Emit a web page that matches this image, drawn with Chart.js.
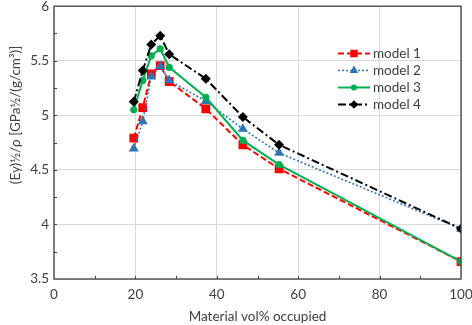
<!DOCTYPE html>
<html>
<head>
<meta charset="utf-8">
<script src="https://cdn.jsdelivr.net/npm/chart.js@4/dist/chart.umd.min.js"></script>
<style>
  html, body { margin: 0; padding: 0; background: #fff; }
  #wrap { width: 472px; height: 325px; }
</style>
</head>
<body>
<div id="wrap"><canvas id="c" width="472" height="325"></canvas></div>
<script>
// vol% occupied
const volPct = [19.6, 21.8, 23.9, 26.1, 28.3, 37.3, 46.4, 55.3, 100];
// specific stiffness per model
const model1 = [4.79, 5.07, 5.38, 5.455, 5.31, 5.06, 4.73, 4.51, 3.66];
const model2 = [4.695, 4.945, 5.355, 5.45, 5.32, 5.13, 4.875, 4.655, 3.96];
const model3 = [5.05, 5.32, 5.545, 5.61, 5.44, 5.165, 4.77, 4.548, 3.66];
const model4 = [5.125, 5.41, 5.65, 5.73, 5.56, 5.335, 4.985, 4.73, 3.96];
const seriesNames = ['model 1', 'model 2', 'model 3', 'model 4'];

const fontFam = 'Lato, "Open Sans", sans-serif';
const txt = '#404040';

const pts = (ys) => volPct.map((x, i) => ({ x: x, y: ys[i] }));

const styles = [
  { color: '#ff0000', dash: [6, 3], width: 2, point: 'rect', r: 6.2 },
  { color: '#2e75b6', dash: [2, 2], width: 1.6, point: 'triangle', r: 5.8 },
  { color: '#00b050', dash: [], width: 2, point: 'circle', r: 3.6 },
  { color: '#000000', dash: [8, 3, 2, 3], width: 2, point: 'rectRot', r: 5 }
];

const datasets = [model1, model2, model3, model4].map((ys, i) => ({
  label: seriesNames[i],
  data: pts(ys),
  borderColor: styles[i].color,
  backgroundColor: styles[i].color,
  borderWidth: styles[i].width,
  borderDash: styles[i].dash,
  pointStyle: styles[i].point,
  pointRadius: styles[i].r,
  pointBorderWidth: 0,
  pointBackgroundColor: styles[i].color,
  tension: 0
})).reverse(); // chart.js paints dataset 0 last, so model 4 ends up on top like excel

const extras = {
  id: 'extras',
  afterDraw(chart) {
    const ctx = chart.ctx;
    const a = chart.chartArea;
    const xs = chart.scales.x, ys = chart.scales.y;
    ctx.save();
    // frame
    ctx.strokeStyle = '#404040';
    ctx.lineWidth = 1.3;
    ctx.strokeRect(a.left, a.top, a.right - a.left, a.bottom - a.top);
    // minor ticks inside
    ctx.lineWidth = 1;
    ctx.beginPath();
    for (let v = 10; v < 100; v += 10) {
      const px = Math.round(xs.getPixelForValue(v)) + 0.5;
      ctx.moveTo(px, a.bottom);
      ctx.lineTo(px, a.bottom - 3);
    }
    for (let v = 3.75; v < 6; v += 0.25) {
      const py = Math.round(ys.getPixelForValue(v)) + 0.5;
      ctx.moveTo(a.left, py);
      ctx.lineTo(a.left + 3, py);
    }
    ctx.stroke();
    // y title
    ctx.fillStyle = txt;
    ctx.font = '13.5px ' + fontFam;
    ctx.translate(16, 115);
    ctx.rotate(-Math.PI / 2);
    ctx.textAlign = 'center';
    ctx.textBaseline = 'middle';
    ctx.fillText('(Ey)\u00BD/\u03C1 [GPa\u00BD/(g/cm\u00B3)]', 0, 0);
    ctx.restore();

    // legend
    ctx.save();
    ctx.font = '13.5px ' + fontFam;
    ctx.textBaseline = 'middle';
    const lx0 = 338, lx1 = 370, rowY = [53.5, 70.5, 87.5, 104.5];
    for (let i = 0; i < 4; i++) {
      const st = styles[i];
      const y = rowY[i];
      ctx.strokeStyle = st.color;
      ctx.lineWidth = st.width;
      ctx.setLineDash(st.dash);
      ctx.beginPath();
      ctx.moveTo(lx0, y);
      ctx.lineTo(lx1, y);
      ctx.stroke();
      ctx.setLineDash([]);
      ctx.fillStyle = st.color;
      Chart.helpers.drawPoint(ctx, {
        pointStyle: st.point, radius: st.r * 0.85, borderWidth: 0, rotation: 0
      }, (lx0 + lx1) / 2, y);
      ctx.fillStyle = txt;
      ctx.textAlign = 'left';
      ctx.fillText(seriesNames[i], 373, y);
    }
    ctx.restore();
  }
};

new Chart(document.getElementById('c'), {
  type: 'line',
  data: { datasets: datasets },
  options: {
    responsive: false,
    animation: false,
    layout: { padding: { left: 0, right: 11, top: 5, bottom: 0 } },
    plugins: { legend: { display: false }, tooltip: { enabled: false } },
    scales: {
      x: {
        type: 'linear',
        min: 0, max: 100,
        ticks: { stepSize: 20, color: txt, font: { family: fontFam, size: 13.5 }, padding: 8, maxRotation: 0 },
        grid: { color: '#d9d9d9', lineWidth: 1, drawTicks: false },
        border: { display: false },
        title: { display: true, text: 'Material vol% occupied', color: txt, font: { family: fontFam, size: 13.5 }, padding: { top: 1, bottom: 0 } },
        afterFit(s) { s.height = 46; s.paddingLeft = 0; s.paddingRight = 0; }
      },
      y: {
        min: 3.5, max: 6,
        ticks: {
          stepSize: 0.5, color: txt, font: { family: fontFam, size: 13.5 }, padding: 5,
          callback: (v) => String(+v.toFixed(2))
        },
        grid: { color: '#d9d9d9', lineWidth: 1, drawTicks: false },
        border: { display: false },
        afterFit(s) { s.width = 54; s.paddingTop = 0; s.paddingBottom = 0; }
      }
    }
  },
  plugins: [extras]
});
</script>
</body>
</html>
